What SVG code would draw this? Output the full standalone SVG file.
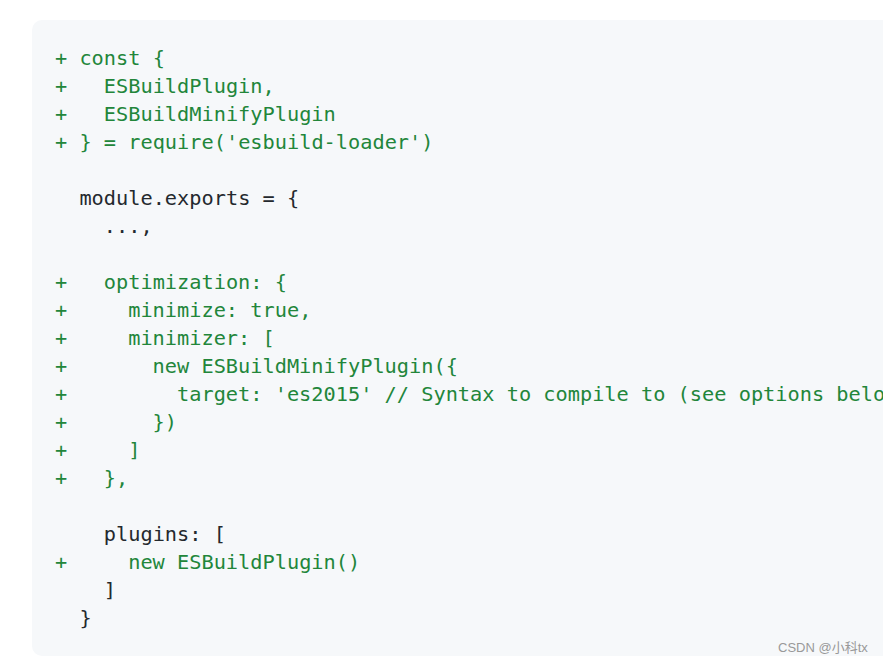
<svg xmlns="http://www.w3.org/2000/svg" width="883" height="663" viewBox="0 0 883 663">
<style>
.c{font-family:"DejaVu Sans Mono","Liberation Mono",monospace;font-size:20.3px}
.g{fill:#22863a}.k{fill:#24292e}
</style>
<rect width="883" height="663" fill="#ffffff"/>
<rect x="32" y="20" width="880" height="636" rx="10" fill="#f6f8fa"/>
<g id="plus" class="c g">
<text x="55" y="65">+</text><text x="55" y="93">+</text><text x="55" y="121">+</text><text x="55" y="149">+</text>
<text x="55" y="289">+</text><text x="55" y="317">+</text><text x="55" y="345">+</text><text x="55" y="373">+</text>
<text x="55" y="401">+</text><text x="55" y="429">+</text><text x="55" y="457">+</text><text x="55" y="485">+</text>
<text x="55" y="569">+</text>
</g>
<g id="code" class="c">
<text x="79.4" y="65" class="g">const {</text>
<text x="103.8" y="93" class="g">ESBuildPlugin,</text>
<text x="103.8" y="121" class="g">ESBuildMinifyPlugin</text>
<text x="79.4" y="149" class="g">} = require('esbuild-loader')</text>
<text x="79.4" y="205" class="k">module.exports = {</text>
<text x="103.8" y="233" class="k">...,</text>
<text x="103.8" y="289" class="g">optimization: {</text>
<text x="128.2" y="317" class="g">minimize: true,</text>
<text x="128.2" y="345" class="g">minimizer: [</text>
<text x="152.6" y="373" class="g">new ESBuildMinifyPlugin({</text>
<text x="177" y="401" class="g">target: 'es2015' // Syntax to compile to (see options below</text>
<text x="152.6" y="429" class="g">})</text>
<text x="128.2" y="457" class="g">]</text>
<text x="103.8" y="485" class="g">},</text>
<text x="103.8" y="541" class="k">plugins: [</text>
<text x="128.2" y="569" class="g">new ESBuildPlugin()</text>
<text x="103.8" y="597" class="k">]</text>
<text x="79.4" y="625" class="k">}</text>
</g>
<text x="778" y="652" font-family="'Liberation Sans','Noto Sans CJK SC',sans-serif" font-size="13" fill="#999">CSDN @小科tx</text>
</svg>
